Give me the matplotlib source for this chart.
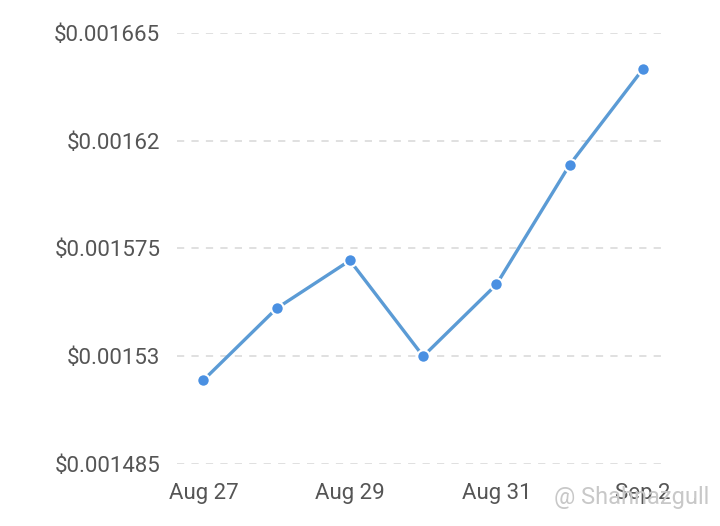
import numpy as np
import matplotlib.pyplot as plt

plt.rcParams['font.family'] = ['Roboto', 'DejaVu Sans']

days = ['Aug 27', 'Aug 28', 'Aug 29', 'Aug 30', 'Aug 31', 'Sep 1', 'Sep 2']
price = [0.00152, 0.00155, 0.00157, 0.00153, 0.00156, 0.00161, 0.00165]
yticks = [0.001485, 0.00153, 0.001575, 0.00162, 0.001665]
ylabels = ['$0.001485', '$0.00153', '$0.001575', '$0.00162', '$0.001665']
xticks = [0, 2, 4, 6]
xlabels = ['Aug 27', 'Aug 29', 'Aug 31', 'Sep 2']

fig = plt.figure(figsize=(7.2, 5.26), dpi=100)
ax = fig.add_axes([177/720, 62/526, 488/720, 431/526])

x = np.arange(len(days))
ax.plot(x, price, color='#5b9bd5', lw=2.4, marker='o', ms=9,
        mfc='#4a90e2', mec='white', mew=1.5, zorder=3)

ax.set_xlim(-0.36, 6.3)
ax.set_ylim(0.001485, 0.001665)
ax.set_yticks(yticks)
ax.set_yticklabels(ylabels)
ax.set_xticks(xticks)
ax.set_xticklabels(xlabels)
ax.grid(axis='y', color='#dddddd', ls=(0, (4, 4)), lw=1.3)
ax.tick_params(axis='y', length=0, pad=12, labelsize=16, labelcolor='#555555')
ax.tick_params(axis='x', length=0, pad=14, labelsize=16, labelcolor='#555555')
for s in ax.spines.values():
    s.set_visible(False)
ax.set_clip_on(False)

fig.text(0.985, 0.055, '@ Shahnazgull', ha='right', va='center',
         fontsize=17, color='#c8c8c8')

fig.savefig('out.png', dpi=100)
